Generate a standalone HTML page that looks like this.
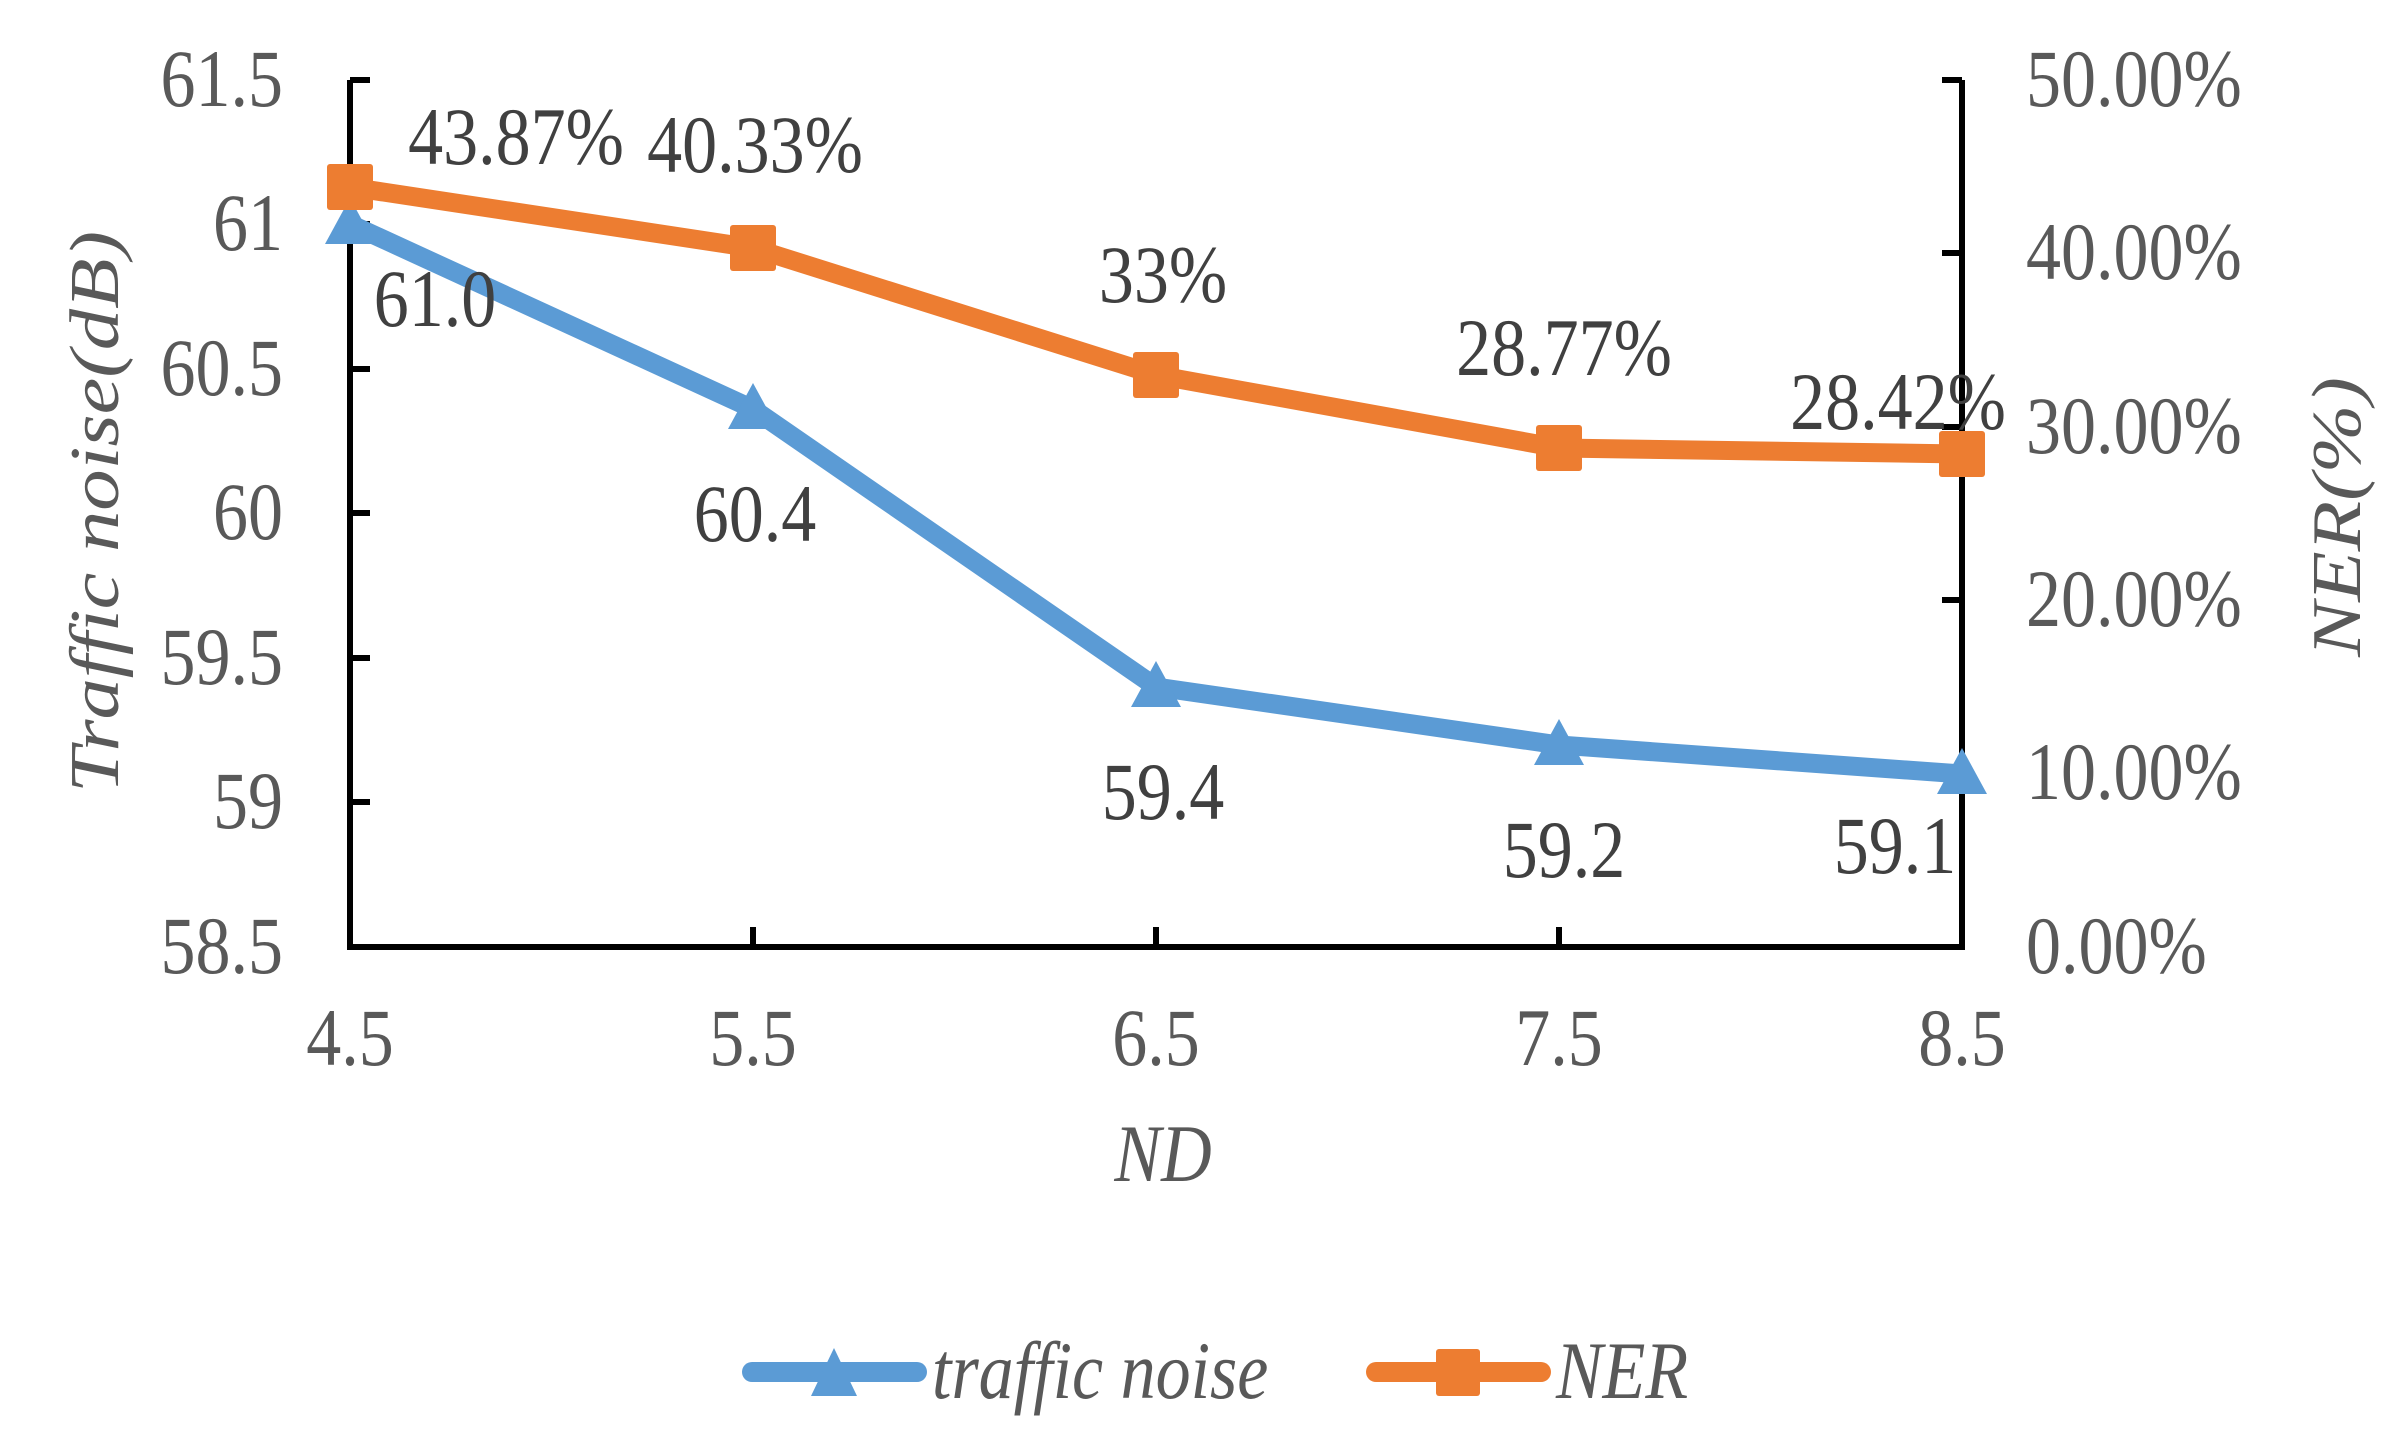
<!DOCTYPE html>
<html><head><meta charset="utf-8"><style>
html,body{margin:0;padding:0;background:#fff}
svg{display:block}
text{font-family:"Liberation Serif",serif}
</style></head><body>
<svg width="2404" height="1437" viewBox="0 0 2404 1437" xmlns="http://www.w3.org/2000/svg">
<rect width="2404" height="1437" fill="#fff"/>
<g stroke="#000" stroke-width="6" fill="none">
<path d="M350 80 V947 H1962 V80"/>
<path d="M350 80 H370 M350 224 H370 M350 369 H370 M350 513 H370 M350 658 H370 M350 802 H370"/>
<path d="M1962 80 H1942 M1962 253 H1942 M1962 427 H1942 M1962 600 H1942 M1962 773 H1942"/>
<path d="M753 947 V927 M1156 947 V927 M1559 947 V927"/>
</g>
<g fill="#595959" font-size="70" text-anchor="end">
<text transform="translate(283,106) scale(1,1.17)">61.5</text>
<text transform="translate(283,250) scale(1,1.17)">61</text>
<text transform="translate(283,395) scale(1,1.17)">60.5</text>
<text transform="translate(283,539) scale(1,1.17)">60</text>
<text transform="translate(283,684) scale(1,1.17)">59.5</text>
<text transform="translate(283,828) scale(1,1.17)">59</text>
<text transform="translate(283,973) scale(1,1.17)">58.5</text>
</g>
<g fill="#595959" font-size="70" text-anchor="start">
<text transform="translate(2026,106) scale(1,1.17)">50.00%</text>
<text transform="translate(2026,279) scale(1,1.17)">40.00%</text>
<text transform="translate(2026,453) scale(1,1.17)">30.00%</text>
<text transform="translate(2026,626) scale(1,1.17)">20.00%</text>
<text transform="translate(2026,799) scale(1,1.17)">10.00%</text>
<text transform="translate(2026,973) scale(1,1.17)">0.00%</text>
</g>
<g fill="#595959" font-size="70" text-anchor="middle">
<text transform="translate(350,1065) scale(1,1.17)">4.5</text>
<text transform="translate(753,1065) scale(1,1.17)">5.5</text>
<text transform="translate(1156,1065) scale(1,1.17)">6.5</text>
<text transform="translate(1559,1065) scale(1,1.17)">7.5</text>
<text transform="translate(1962,1065) scale(1,1.17)">8.5</text>
<text transform="translate(1163,1181) scale(1,1.17)" font-style="italic">ND</text>
<text transform="translate(118,512) rotate(-90) scale(1.18,1)" font-style="italic">Traffic noise(dB)</text>
<text transform="translate(2360,517) rotate(-90) scale(1.18,1)" font-style="italic">NER(%)</text>
</g>
<polyline points="350,224 753,409 1156,687 1559,745 1962,774" fill="none" stroke="#5B9BD5" stroke-width="19" stroke-linejoin="round"/>
<g fill="#5B9BD5">
<polygon points="350,198 375,244 325,244"/>
<polygon points="753,383 778,429 728,429"/>
<polygon points="1156,661 1181,707 1131,707"/>
<polygon points="1559,719 1584,765 1534,765"/>
<polygon points="1962,748 1987,794 1937,794"/>
</g>
<polyline points="350,187 753,248 1156,375 1559,448 1962,454" fill="none" stroke="#ED7D31" stroke-width="19" stroke-linejoin="round"/>
<g fill="#ED7D31">
<rect x="327" y="164" width="46" height="46" rx="3"/>
<rect x="730" y="225" width="46" height="46" rx="3"/>
<rect x="1133" y="352" width="46" height="46" rx="3"/>
<rect x="1536" y="425" width="46" height="46" rx="3"/>
<rect x="1939" y="431" width="46" height="46" rx="3"/>
</g>
<g fill="#404040" font-size="70" text-anchor="middle">
<text transform="translate(516,164) scale(1,1.17)">43.87%</text>
<text transform="translate(755,172) scale(1,1.17)">40.33%</text>
<text transform="translate(1163,302) scale(1,1.17)">33%</text>
<text transform="translate(1564,375) scale(1,1.17)">28.77%</text>
<text transform="translate(1898,429) scale(1,1.17)">28.42%</text>
<text transform="translate(435,326) scale(1,1.17)">61.0</text>
<text transform="translate(755,541) scale(1,1.17)">60.4</text>
<text transform="translate(1163,819) scale(1,1.17)">59.4</text>
<text transform="translate(1564,877) scale(1,1.17)">59.2</text>
<text transform="translate(1895,873) scale(1,1.17)">59.1</text>
</g>
<line x1="752" y1="1372" x2="917" y2="1372" stroke="#5B9BD5" stroke-width="20" stroke-linecap="round"/>
<polygon points="834,1348 857,1396 811,1396" fill="#5B9BD5"/>
<text transform="translate(932,1398) scale(1,1.17)" fill="#595959" font-size="70" font-style="italic">traffic noise</text>
<line x1="1376" y1="1372" x2="1541" y2="1372" stroke="#ED7D31" stroke-width="20" stroke-linecap="round"/>
<rect x="1436" y="1349" width="44" height="47" rx="3" fill="#ED7D31"/>
<text transform="translate(1556,1398) scale(1,1.17)" fill="#595959" font-size="70" font-style="italic">NER</text>
</svg>
</body></html>
